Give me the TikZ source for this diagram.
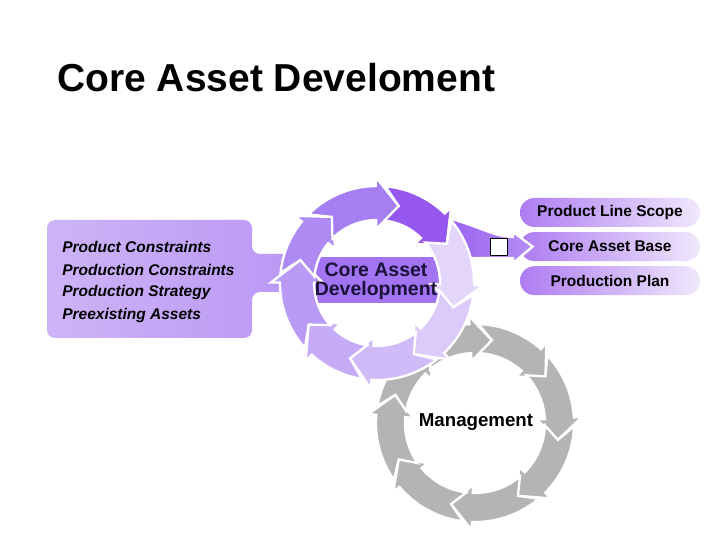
\documentclass[tikz,border=0pt]{standalone}
\usepackage{fontspec}
\setmainfont{Liberation Sans}
\setsansfont{Liberation Sans}
\usetikzlibrary{positioning}

\definecolor{segA}{HTML}{9657EE}
\definecolor{segB}{HTML}{E4D6FB}
\definecolor{segC}{HTML}{DCCAFA}
\definecolor{segD}{HTML}{D0BBF8}
\definecolor{segE}{HTML}{C6ABF7}
\definecolor{segF}{HTML}{B99AF4}
\definecolor{segG}{HTML}{AE8BF3}
\definecolor{segH}{HTML}{A57EF1}
\definecolor{ringgray}{HTML}{B4B4B4}
\definecolor{bandpurple}{HTML}{A274F2}
\definecolor{labelnavy}{HTML}{1A1238}
\definecolor{boxleft}{HTML}{AE7CF2}
\definecolor{boxright}{HTML}{F0E8FC}
\definecolor{arrowleft}{HTML}{9A62F0}
\definecolor{arrowright}{HTML}{B48EF4}
\definecolor{inleft}{HTML}{CDB4F7}
\definecolor{inright}{HTML}{B997F4}

\begin{document}
\begin{tikzpicture}[
                x = 1pt, y = 1pt, % one unit per pixel
                node distance = 4.5pt, % gap between the output boxes
                semithick % line style
            ]

            \tikzstyle{ringseg}=[draw = white, line width = 2.3pt]
            \tikzstyle{outbox}=[rounded corners = 14.5pt, minimum width = 180pt,
            minimum height = 29pt, left color = boxleft, right color = boxright,
            font = \fontsize{15.5}{18}\selectfont\bfseries]
            \tikzstyle{inlabel}=[anchor = west, inner sep = 0pt,
            font = \fontsize{15.5}{18}\selectfont\bfseries\itshape]

            \useasboundingbox (0,0) rectangle (728,546);
            \fill[white] (0,0) rectangle (728,546);

            \node (title) [anchor = base west, inner sep = 0pt,
            font = \fontsize{39}{44}\selectfont\bfseries] at (57,454) {Core Asset Develoment};

            % management ring
            \begin{scope}[shift = {(475,123)}]
                \foreach \a/\b in {88/43, 43/-2, -2/-50, -50/-97, -97/-145, -145/-190, -190/-230, -230/-272}
                    \filldraw[ringseg, fill = ringgray] (\a:99) -- (\a-9.5:84.5) -- (\a:70)
                    arc[start angle = \a, end angle = \b+5.2, radius = 70] -- (\b+5.2:62)
                    -- (\b-9.5:84.5) -- (\b+5.2:107) -- (\b+5.2:99)
                    arc[start angle = \b+5.2, end angle = \a, radius = 99] -- cycle;
            \end{scope}

            % inputs
            \shade[left color = inleft, right color = inright, rounded corners = 8pt]
            (47,208) -- (47,326) -- (252,326) -- (252,292) -- (300,292)
            -- (300,254) -- (252,254) -- (252,208) -- cycle;

            \node (pc) [inlabel] at (62,299) {Product Constraints};
            \node (pdc) [inlabel, below = 22.7pt of pc.west, anchor = west] {Production Constraints};
            \node (ps) [inlabel, below = 22.7pt of pdc.west, anchor = west] {Production Strategy};
            \node (pa) [inlabel, below = 22.7pt of ps.west, anchor = west] {Preexisting Assets};

            % outputs
            \node (scope) [outbox] at (610,333.5) {Product Line Scope};
            \node (base) [outbox, below = of scope] {Core Asset Base};
            \node (plan) [outbox, below = of base] {Production Plan};

            \shadedraw[ringseg, left color = arrowleft, right color = arrowright]
            (448,328) .. controls (478,320) and (495,309) .. (513,309) -- (513,314)
            -- ([xshift = 13pt]base.west) -- (513,283) -- (513,288) -- (470,288)
            .. controls (460,288) and (452,292) .. (448,296) -- cycle;
            \node (mark) [draw = black, thin, fill = white, minimum size = 17pt,
            inner sep = 0pt] at (498.5,299) {};

            % core asset ring
            \fill[bandpurple] (308,243) rectangle (440,289);
            \begin{scope}[shift = {(377,263)}]
                \foreach \a/\b/\c in {85/40/segA, 40/-7/segB, -7/-52/segC, -52/-99/segD,
                -99/-138/segE, -138/-186/segF, -186/-225/segG, -225/-275/segH}
                    \filldraw[ringseg, fill = \c] (\a:97) -- (\a-10.7:80) -- (\a:63)
                    arc[start angle = \a, end angle = \b+5.7, radius = 63] -- (\b+5.7:54)
                    -- (\b-10.7:80) -- (\b+5.7:106) -- (\b+5.7:97)
                    arc[start angle = \b+5.7, end angle = \a, radius = 97] -- cycle;
            \end{scope}

            \node (cad) [align = center, text = labelnavy,
            font = \fontsize{19.5}{19}\selectfont\bfseries] at (376,265) {Core Asset\\Development};
            \node (mgmt) [font = \fontsize{18.7}{20}\selectfont\bfseries] at (476,124) {Management};

        \end{tikzpicture}
\end{document}
